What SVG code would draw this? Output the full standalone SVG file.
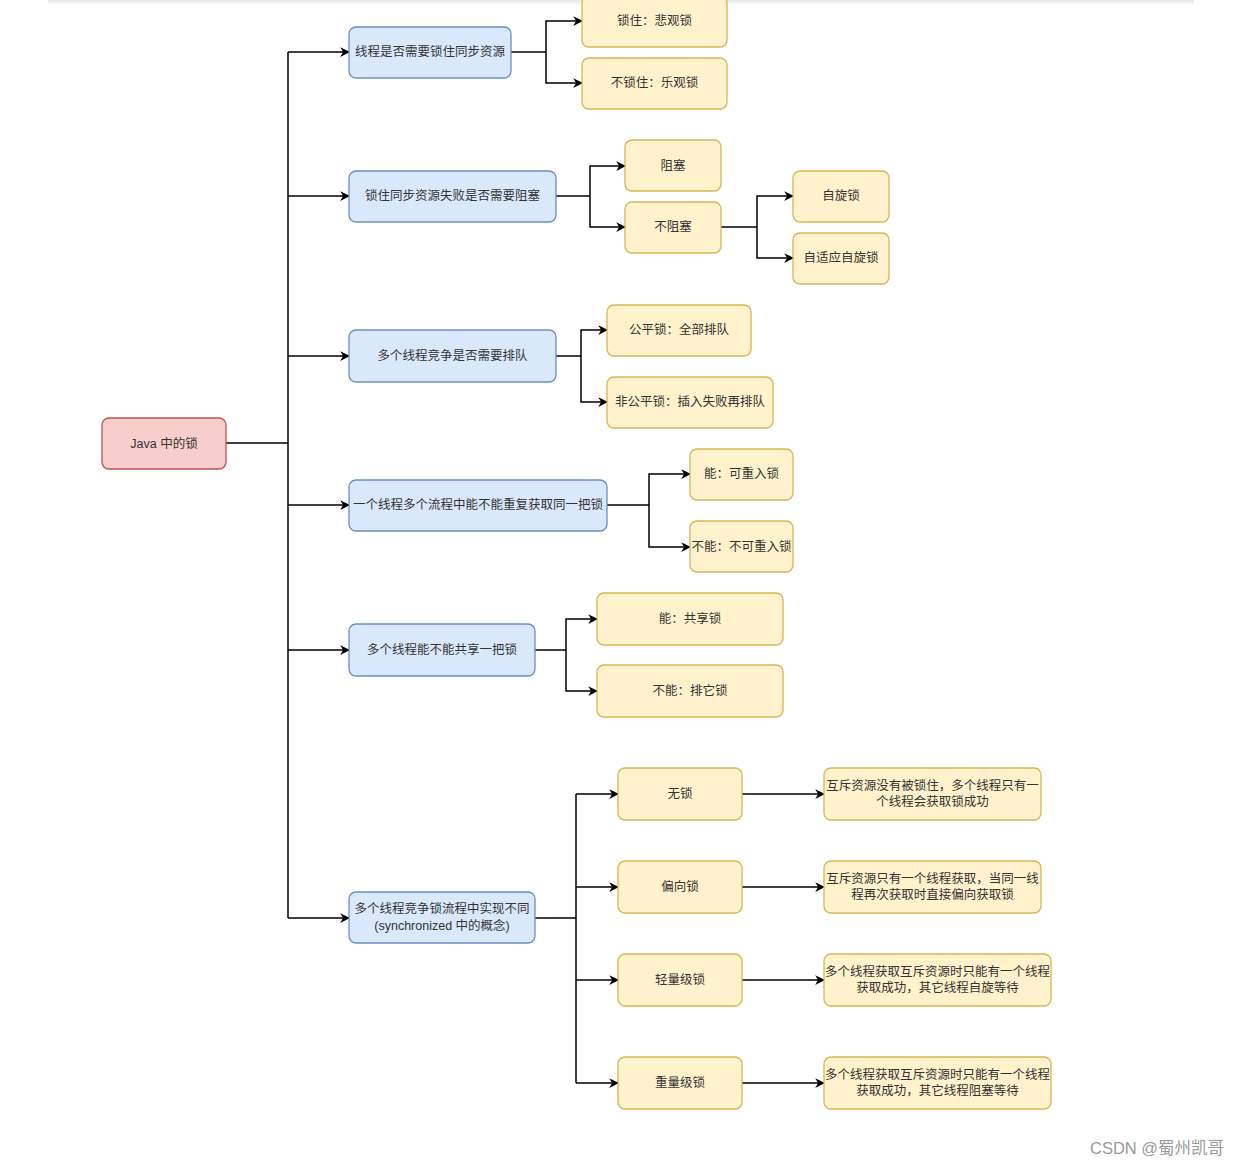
<svg xmlns="http://www.w3.org/2000/svg" width="1242" height="1166" viewBox="0 0 1242 1166">
<style>
text{font-family:"Liberation Sans","Noto Sans CJK SC",sans-serif;font-size:12.5px;fill:#333;text-anchor:middle;dominant-baseline:central}
.root rect{fill:#f8cecc;stroke:#b85450;stroke-width:1.3}
.q rect{fill:#dae8fc;stroke:#6c8ebf;stroke-width:1.3}
.a rect{fill:#fff2cc;stroke:#d6b656;stroke-width:1.3}
#connectors path{fill:none;stroke:#000;stroke-width:1.5}
#connectors path.arr{marker-end:url(#ah)}
.wm{font-size:16.5px;fill:#999;text-anchor:start}
</style>
<defs>
<marker id="ah" viewBox="0 0 10 10" refX="9" refY="5" markerWidth="6.5" markerHeight="6.5" orient="auto" markerUnits="strokeWidth">
<path d="M0,0 L10,5 L0,10 L3,5 Z" fill="#000"/>
</marker>
<linearGradient id="top" x1="0" y1="0" x2="0" y2="1"><stop offset="0" stop-color="#e6e6e6"/><stop offset="1" stop-color="#ffffff"/></linearGradient>
</defs>
<rect width="1242" height="1166" fill="#fff"/>
<rect x="48" y="0" width="1146" height="5" fill="url(#top)"/>

<g id="connectors">
<path d="M226,443 H288"/>
<path d="M288,52 V918"/>
<path class="arr" d="M288,52 H349"/>
<path class="arr" d="M288,196 H349"/>
<path class="arr" d="M288,356 H349"/>
<path class="arr" d="M288,505 H349"/>
<path class="arr" d="M288,650 H349"/>
<path class="arr" d="M288,918 H349"/>
<path d="M511,52 H546"/>
<path class="arr" d="M546,52 V21 H582"/>
<path class="arr" d="M546,52 V83 H582"/>
<path d="M556,196 H590"/>
<path class="arr" d="M590,196 V166 H625"/>
<path class="arr" d="M590,196 V227 H625"/>
<path d="M721,227 H757"/>
<path class="arr" d="M757,227 V196 H793"/>
<path class="arr" d="M757,227 V258 H793"/>
<path d="M556,356 H581"/>
<path class="arr" d="M581,356 V330 H607"/>
<path class="arr" d="M581,356 V402 H607"/>
<path d="M607,505 H649"/>
<path class="arr" d="M649,505 V474 H690"/>
<path class="arr" d="M649,505 V547 H690"/>
<path d="M535,650 H566"/>
<path class="arr" d="M566,650 V619 H597"/>
<path class="arr" d="M566,650 V691 H597"/>
<path d="M535,918 H576"/>
<path d="M576,794 V1083"/>
<path class="arr" d="M576,794 H618"/>
<path class="arr" d="M576,887 H618"/>
<path class="arr" d="M576,980 H618"/>
<path class="arr" d="M576,1083 H618"/>
<path class="arr" d="M742,794 H824"/>
<path class="arr" d="M742,887 H824"/>
<path class="arr" d="M742,980 H824"/>
<path class="arr" d="M742,1083 H824"/>
</g>

<g id="root" class="root"><rect x="102" y="418" width="124" height="51" rx="7"/><text x="164" y="443.5">Java 中的锁</text></g>

<g id="q1" class="q"><rect x="349" y="27" width="162" height="51" rx="7"/><text x="430" y="52">线程是否需要锁住同步资源</text></g>
<g id="q2" class="q"><rect x="349" y="171" width="207" height="51" rx="7"/><text x="452.5" y="196">锁住同步资源失败是否需要阻塞</text></g>
<g id="q3" class="q"><rect x="349" y="330" width="207" height="52" rx="7"/><text x="452.5" y="356">多个线程竞争是否需要排队</text></g>
<g id="q4" class="q"><rect x="349" y="480" width="258" height="51" rx="7"/><text x="478" y="505">一个线程多个流程中能不能重复获取同一把锁</text></g>
<g id="q5" class="q"><rect x="349" y="624" width="186" height="52" rx="7"/><text x="442" y="650">多个线程能不能共享一把锁</text></g>
<g id="q6" class="q"><rect x="349" y="892" width="186" height="51" rx="7"/><text x="442" y="909">多个线程竞争锁流程中实现不同</text><text x="442" y="926">(synchronized 中的概念)</text></g>

<g id="a1" class="a"><rect x="582" y="-4" width="145" height="51" rx="7"/><text x="654.5" y="21">锁住：悲观锁</text></g>
<g id="a2" class="a"><rect x="582" y="58" width="145" height="51" rx="7"/><text x="654.5" y="83">不锁住：乐观锁</text></g>
<g id="a3" class="a"><rect x="625" y="140" width="96" height="51" rx="7"/><text x="673" y="166">阻塞</text></g>
<g id="a4" class="a"><rect x="625" y="202" width="96" height="51" rx="7"/><text x="673" y="227">不阻塞</text></g>
<g id="a5" class="a"><rect x="793" y="171" width="96" height="51" rx="7"/><text x="841" y="196">自旋锁</text></g>
<g id="a6" class="a"><rect x="793" y="233" width="96" height="51" rx="7"/><text x="841" y="258">自适应自旋锁</text></g>
<g id="a7" class="a"><rect x="607" y="305" width="144" height="51" rx="7"/><text x="679" y="330">公平锁：全部排队</text></g>
<g id="a8" class="a"><rect x="607" y="377" width="166" height="51" rx="7"/><text x="690" y="402">非公平锁：插入失败再排队</text></g>
<g id="a9" class="a"><rect x="690" y="449" width="103" height="51" rx="7"/><text x="741.5" y="474">能：可重入锁</text></g>
<g id="a10" class="a"><rect x="690" y="521" width="103" height="51" rx="7"/><text x="741.5" y="547">不能：不可重入锁</text></g>
<g id="a11" class="a"><rect x="597" y="593" width="186" height="52" rx="7"/><text x="690" y="619">能：共享锁</text></g>
<g id="a12" class="a"><rect x="597" y="665" width="186" height="52" rx="7"/><text x="690" y="691">不能：排它锁</text></g>
<g id="s1" class="a"><rect x="618" y="768" width="124" height="52" rx="7"/><text x="680" y="794">无锁</text></g>
<g id="s2" class="a"><rect x="618" y="861" width="124" height="52" rx="7"/><text x="680" y="887">偏向锁</text></g>
<g id="s3" class="a"><rect x="618" y="954" width="124" height="52" rx="7"/><text x="680" y="980">轻量级锁</text></g>
<g id="s4" class="a"><rect x="618" y="1057" width="124" height="52" rx="7"/><text x="680" y="1083">重量级锁</text></g>
<g id="d1" class="a"><rect x="824" y="768" width="217" height="52" rx="7"/><text x="932.5" y="786">互斥资源没有被锁住，多个线程只有一</text><text x="932.5" y="802">个线程会获取锁成功</text></g>
<g id="d2" class="a"><rect x="824" y="861" width="217" height="52" rx="7"/><text x="932.5" y="879">互斥资源只有一个线程获取，当同一线</text><text x="932.5" y="895">程再次获取时直接偏向获取锁</text></g>
<g id="d3" class="a"><rect x="824" y="954" width="227" height="52" rx="7"/><text x="937.5" y="972">多个线程获取互斥资源时只能有一个线程</text><text x="937.5" y="988">获取成功，其它线程自旋等待</text></g>
<g id="d4" class="a"><rect x="824" y="1057" width="227" height="52" rx="7"/><text x="937.5" y="1075">多个线程获取互斥资源时只能有一个线程</text><text x="937.5" y="1091">获取成功，其它线程阻塞等待</text></g>

<text class="wm" x="1090" y="1148">CSDN @蜀州凯哥</text>
</svg>
